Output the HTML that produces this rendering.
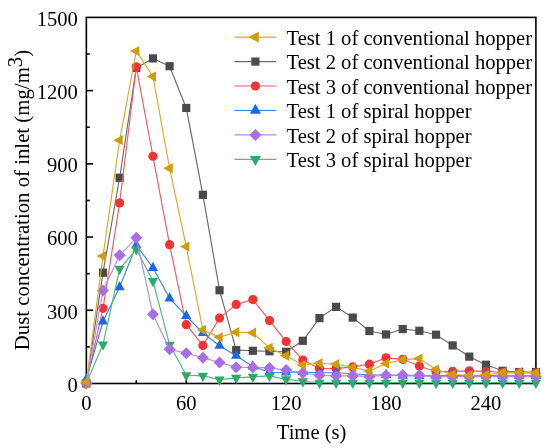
<!DOCTYPE html>
<html><head><meta charset="utf-8"><style>
html,body{margin:0;padding:0;background:#fff;}
svg{display:block;}
text{font-family:"Liberation Serif","Times New Roman",serif;font-size:20.6px;fill:#000;}
</style></head><body>
<svg width="550" height="448" viewBox="0 0 550 448">
<rect width="550" height="448" fill="#fff"/>
<rect x="86.35" y="17.40" width="449.55" height="366.10" fill="none" stroke="#000" stroke-width="1.6"/>
<line x1="86.35" y1="346.89" x2="89.75" y2="346.89" stroke="#000" stroke-width="1.6"/>
<line x1="86.35" y1="310.28" x2="93.15" y2="310.28" stroke="#000" stroke-width="1.6"/>
<line x1="86.35" y1="273.67" x2="89.75" y2="273.67" stroke="#000" stroke-width="1.6"/>
<line x1="86.35" y1="237.06" x2="93.15" y2="237.06" stroke="#000" stroke-width="1.6"/>
<line x1="86.35" y1="200.45" x2="89.75" y2="200.45" stroke="#000" stroke-width="1.6"/>
<line x1="86.35" y1="163.84" x2="93.15" y2="163.84" stroke="#000" stroke-width="1.6"/>
<line x1="86.35" y1="127.23" x2="89.75" y2="127.23" stroke="#000" stroke-width="1.6"/>
<line x1="86.35" y1="90.62" x2="93.15" y2="90.62" stroke="#000" stroke-width="1.6"/>
<line x1="86.35" y1="54.01" x2="89.75" y2="54.01" stroke="#000" stroke-width="1.6"/>
<line x1="136.30" y1="383.50" x2="136.30" y2="380.10" stroke="#000" stroke-width="1.6"/>
<line x1="186.25" y1="383.50" x2="186.25" y2="376.70" stroke="#000" stroke-width="1.6"/>
<line x1="236.20" y1="383.50" x2="236.20" y2="380.10" stroke="#000" stroke-width="1.6"/>
<line x1="286.15" y1="383.50" x2="286.15" y2="376.70" stroke="#000" stroke-width="1.6"/>
<line x1="336.10" y1="383.50" x2="336.10" y2="380.10" stroke="#000" stroke-width="1.6"/>
<line x1="386.05" y1="383.50" x2="386.05" y2="376.70" stroke="#000" stroke-width="1.6"/>
<line x1="436.00" y1="383.50" x2="436.00" y2="380.10" stroke="#000" stroke-width="1.6"/>
<line x1="485.95" y1="383.50" x2="485.95" y2="376.70" stroke="#000" stroke-width="1.6"/>
<polyline points="86.35,383.50 103.00,272.69 119.65,177.75 136.30,67.92 152.95,58.40 169.60,66.21 186.25,107.95 202.90,194.84 219.55,290.27 236.20,350.06 252.85,350.80 269.50,351.28 286.15,351.77 302.80,340.79 319.45,318.09 336.10,306.86 352.75,317.60 369.40,331.03 386.05,334.44 402.70,329.07 419.35,330.78 436.00,334.69 452.65,345.43 469.30,356.65 485.95,364.71 502.60,370.81 519.25,372.03 535.90,372.03" fill="none" stroke="#6A6A6A" stroke-width="1.15" stroke-linejoin="round"/>
<rect x="82.25" y="379.40" width="8.2" height="8.2" fill="#4A4A4A"/>
<rect x="98.90" y="268.59" width="8.2" height="8.2" fill="#4A4A4A"/>
<rect x="115.55" y="173.65" width="8.2" height="8.2" fill="#4A4A4A"/>
<rect x="132.20" y="63.82" width="8.2" height="8.2" fill="#4A4A4A"/>
<rect x="148.85" y="54.30" width="8.2" height="8.2" fill="#4A4A4A"/>
<rect x="165.50" y="62.11" width="8.2" height="8.2" fill="#4A4A4A"/>
<rect x="182.15" y="103.85" width="8.2" height="8.2" fill="#4A4A4A"/>
<rect x="198.80" y="190.74" width="8.2" height="8.2" fill="#4A4A4A"/>
<rect x="215.45" y="286.17" width="8.2" height="8.2" fill="#4A4A4A"/>
<rect x="232.10" y="345.96" width="8.2" height="8.2" fill="#4A4A4A"/>
<rect x="248.75" y="346.70" width="8.2" height="8.2" fill="#4A4A4A"/>
<rect x="265.40" y="347.18" width="8.2" height="8.2" fill="#4A4A4A"/>
<rect x="282.05" y="347.67" width="8.2" height="8.2" fill="#4A4A4A"/>
<rect x="298.70" y="336.69" width="8.2" height="8.2" fill="#4A4A4A"/>
<rect x="315.35" y="313.99" width="8.2" height="8.2" fill="#4A4A4A"/>
<rect x="332.00" y="302.76" width="8.2" height="8.2" fill="#4A4A4A"/>
<rect x="348.65" y="313.50" width="8.2" height="8.2" fill="#4A4A4A"/>
<rect x="365.30" y="326.93" width="8.2" height="8.2" fill="#4A4A4A"/>
<rect x="381.95" y="330.34" width="8.2" height="8.2" fill="#4A4A4A"/>
<rect x="398.60" y="324.97" width="8.2" height="8.2" fill="#4A4A4A"/>
<rect x="415.25" y="326.68" width="8.2" height="8.2" fill="#4A4A4A"/>
<rect x="431.90" y="330.59" width="8.2" height="8.2" fill="#4A4A4A"/>
<rect x="448.55" y="341.33" width="8.2" height="8.2" fill="#4A4A4A"/>
<rect x="465.20" y="352.55" width="8.2" height="8.2" fill="#4A4A4A"/>
<rect x="481.85" y="360.61" width="8.2" height="8.2" fill="#4A4A4A"/>
<rect x="498.50" y="366.71" width="8.2" height="8.2" fill="#4A4A4A"/>
<rect x="515.15" y="367.93" width="8.2" height="8.2" fill="#4A4A4A"/>
<rect x="531.80" y="367.93" width="8.2" height="8.2" fill="#4A4A4A"/>
<polyline points="86.35,382.52 103.00,308.33 119.65,202.89 136.30,66.95 152.95,156.27 169.60,244.63 186.25,324.68 202.90,345.43 219.55,318.09 236.20,304.42 252.85,299.54 269.50,320.53 286.15,341.52 302.80,360.07 319.45,368.61 336.10,368.61 352.75,366.90 369.40,364.22 386.05,357.87 402.70,359.34 419.35,365.93 436.00,371.78 452.65,371.30 469.30,370.81 485.95,371.30 502.60,372.52 519.25,372.76 535.90,373.01" fill="none" stroke="#F05C64" stroke-width="1.15" stroke-linejoin="round"/>
<circle cx="86.35" cy="382.52" r="4.6" fill="#F03434"/>
<circle cx="103.00" cy="308.33" r="4.6" fill="#F03434"/>
<circle cx="119.65" cy="202.89" r="4.6" fill="#F03434"/>
<circle cx="136.30" cy="66.95" r="4.6" fill="#F03434"/>
<circle cx="152.95" cy="156.27" r="4.6" fill="#F03434"/>
<circle cx="169.60" cy="244.63" r="4.6" fill="#F03434"/>
<circle cx="186.25" cy="324.68" r="4.6" fill="#F03434"/>
<circle cx="202.90" cy="345.43" r="4.6" fill="#F03434"/>
<circle cx="219.55" cy="318.09" r="4.6" fill="#F03434"/>
<circle cx="236.20" cy="304.42" r="4.6" fill="#F03434"/>
<circle cx="252.85" cy="299.54" r="4.6" fill="#F03434"/>
<circle cx="269.50" cy="320.53" r="4.6" fill="#F03434"/>
<circle cx="286.15" cy="341.52" r="4.6" fill="#F03434"/>
<circle cx="302.80" cy="360.07" r="4.6" fill="#F03434"/>
<circle cx="319.45" cy="368.61" r="4.6" fill="#F03434"/>
<circle cx="336.10" cy="368.61" r="4.6" fill="#F03434"/>
<circle cx="352.75" cy="366.90" r="4.6" fill="#F03434"/>
<circle cx="369.40" cy="364.22" r="4.6" fill="#F03434"/>
<circle cx="386.05" cy="357.87" r="4.6" fill="#F03434"/>
<circle cx="402.70" cy="359.34" r="4.6" fill="#F03434"/>
<circle cx="419.35" cy="365.93" r="4.6" fill="#F03434"/>
<circle cx="436.00" cy="371.78" r="4.6" fill="#F03434"/>
<circle cx="452.65" cy="371.30" r="4.6" fill="#F03434"/>
<circle cx="469.30" cy="370.81" r="4.6" fill="#F03434"/>
<circle cx="485.95" cy="371.30" r="4.6" fill="#F03434"/>
<circle cx="502.60" cy="372.52" r="4.6" fill="#F03434"/>
<circle cx="519.25" cy="372.76" r="4.6" fill="#F03434"/>
<circle cx="535.90" cy="373.01" r="4.6" fill="#F03434"/>
<polyline points="86.35,379.11 103.00,321.51 119.65,287.09 136.30,245.11 152.95,267.81 169.60,298.32 186.25,315.89 202.90,332.98 219.55,345.67 236.20,355.68 252.85,366.42 269.50,372.27 286.15,372.52 302.80,372.03 319.45,372.76 336.10,372.76 352.75,373.74 369.40,374.96 386.05,374.96 402.70,375.69 419.35,375.93 436.00,375.93 452.65,375.45 469.30,375.45 485.95,375.45 502.60,375.93 519.25,375.93 535.90,375.93" fill="none" stroke="#3A7EEA" stroke-width="1.15" stroke-linejoin="round"/>
<path d="M86.35 372.97L91.45 382.17L81.25 382.17Z" fill="#1E66E8"/>
<path d="M103.00 315.37L108.10 324.57L97.90 324.57Z" fill="#1E66E8"/>
<path d="M119.65 280.96L124.75 290.16L114.55 290.16Z" fill="#1E66E8"/>
<path d="M136.30 238.98L141.40 248.18L131.20 248.18Z" fill="#1E66E8"/>
<path d="M152.95 261.68L158.05 270.88L147.85 270.88Z" fill="#1E66E8"/>
<path d="M169.60 292.19L174.70 301.39L164.50 301.39Z" fill="#1E66E8"/>
<path d="M186.25 309.76L191.35 318.96L181.15 318.96Z" fill="#1E66E8"/>
<path d="M202.90 326.84L208.00 336.04L197.80 336.04Z" fill="#1E66E8"/>
<path d="M219.55 339.54L224.65 348.74L214.45 348.74Z" fill="#1E66E8"/>
<path d="M236.20 349.54L241.30 358.74L231.10 358.74Z" fill="#1E66E8"/>
<path d="M252.85 360.28L257.95 369.48L247.75 369.48Z" fill="#1E66E8"/>
<path d="M269.50 366.14L274.60 375.34L264.40 375.34Z" fill="#1E66E8"/>
<path d="M286.15 366.38L291.25 375.58L281.05 375.58Z" fill="#1E66E8"/>
<path d="M302.80 365.90L307.90 375.10L297.70 375.10Z" fill="#1E66E8"/>
<path d="M319.45 366.63L324.55 375.83L314.35 375.83Z" fill="#1E66E8"/>
<path d="M336.10 366.63L341.20 375.83L331.00 375.83Z" fill="#1E66E8"/>
<path d="M352.75 367.60L357.85 376.80L347.65 376.80Z" fill="#1E66E8"/>
<path d="M369.40 368.82L374.50 378.02L364.30 378.02Z" fill="#1E66E8"/>
<path d="M386.05 368.82L391.15 378.02L380.95 378.02Z" fill="#1E66E8"/>
<path d="M402.70 369.56L407.80 378.76L397.60 378.76Z" fill="#1E66E8"/>
<path d="M419.35 369.80L424.45 379.00L414.25 379.00Z" fill="#1E66E8"/>
<path d="M436.00 369.80L441.10 379.00L430.90 379.00Z" fill="#1E66E8"/>
<path d="M452.65 369.31L457.75 378.51L447.55 378.51Z" fill="#1E66E8"/>
<path d="M469.30 369.31L474.40 378.51L464.20 378.51Z" fill="#1E66E8"/>
<path d="M485.95 369.31L491.05 378.51L480.85 378.51Z" fill="#1E66E8"/>
<path d="M502.60 369.80L507.70 379.00L497.50 379.00Z" fill="#1E66E8"/>
<path d="M519.25 369.80L524.35 379.00L514.15 379.00Z" fill="#1E66E8"/>
<path d="M535.90 369.80L541.00 379.00L530.80 379.00Z" fill="#1E66E8"/>
<polyline points="86.35,383.01 103.00,344.45 119.65,268.79 136.30,249.26 152.95,280.99 169.60,344.69 186.25,375.20 202.90,375.93 219.55,379.59 236.20,377.89 252.85,376.91 269.50,375.93 286.15,379.35 302.80,381.30 319.45,382.77 336.10,382.77 352.75,382.77 369.40,382.77 386.05,382.77 402.70,382.77 419.35,382.77 436.00,382.77 452.65,382.77 469.30,382.77 485.95,382.77 502.60,382.77 519.25,382.77 535.90,382.77" fill="none" stroke="#50B880" stroke-width="1.15" stroke-linejoin="round"/>
<path d="M86.35 389.15L91.45 379.95L81.25 379.95Z" fill="#2DAA6A"/>
<path d="M103.00 350.58L108.10 341.38L97.90 341.38Z" fill="#2DAA6A"/>
<path d="M119.65 274.92L124.75 265.72L114.55 265.72Z" fill="#2DAA6A"/>
<path d="M136.30 255.40L141.40 246.20L131.20 246.20Z" fill="#2DAA6A"/>
<path d="M152.95 287.13L158.05 277.93L147.85 277.93Z" fill="#2DAA6A"/>
<path d="M169.60 350.83L174.70 341.63L164.50 341.63Z" fill="#2DAA6A"/>
<path d="M186.25 381.34L191.35 372.14L181.15 372.14Z" fill="#2DAA6A"/>
<path d="M202.90 382.07L208.00 372.87L197.80 372.87Z" fill="#2DAA6A"/>
<path d="M219.55 385.73L224.65 376.53L214.45 376.53Z" fill="#2DAA6A"/>
<path d="M236.20 384.02L241.30 374.82L231.10 374.82Z" fill="#2DAA6A"/>
<path d="M252.85 383.04L257.95 373.84L247.75 373.84Z" fill="#2DAA6A"/>
<path d="M269.50 382.07L274.60 372.87L264.40 372.87Z" fill="#2DAA6A"/>
<path d="M286.15 385.48L291.25 376.28L281.05 376.28Z" fill="#2DAA6A"/>
<path d="M302.80 387.44L307.90 378.24L297.70 378.24Z" fill="#2DAA6A"/>
<path d="M319.45 388.90L324.55 379.70L314.35 379.70Z" fill="#2DAA6A"/>
<path d="M336.10 388.90L341.20 379.70L331.00 379.70Z" fill="#2DAA6A"/>
<path d="M352.75 388.90L357.85 379.70L347.65 379.70Z" fill="#2DAA6A"/>
<path d="M369.40 388.90L374.50 379.70L364.30 379.70Z" fill="#2DAA6A"/>
<path d="M386.05 388.90L391.15 379.70L380.95 379.70Z" fill="#2DAA6A"/>
<path d="M402.70 388.90L407.80 379.70L397.60 379.70Z" fill="#2DAA6A"/>
<path d="M419.35 388.90L424.45 379.70L414.25 379.70Z" fill="#2DAA6A"/>
<path d="M436.00 388.90L441.10 379.70L430.90 379.70Z" fill="#2DAA6A"/>
<path d="M452.65 388.90L457.75 379.70L447.55 379.70Z" fill="#2DAA6A"/>
<path d="M469.30 388.90L474.40 379.70L464.20 379.70Z" fill="#2DAA6A"/>
<path d="M485.95 388.90L491.05 379.70L480.85 379.70Z" fill="#2DAA6A"/>
<path d="M502.60 388.90L507.70 379.70L497.50 379.70Z" fill="#2DAA6A"/>
<path d="M519.25 388.90L524.35 379.70L514.15 379.70Z" fill="#2DAA6A"/>
<path d="M535.90 388.90L541.00 379.70L530.80 379.70Z" fill="#2DAA6A"/>
<polyline points="86.35,383.50 103.00,290.51 119.65,255.37 136.30,237.79 152.95,314.19 169.60,349.33 186.25,353.24 202.90,357.63 219.55,362.51 236.20,367.15 252.85,367.39 269.50,367.88 286.15,370.08 302.80,373.01 319.45,375.20 336.10,375.93 352.75,375.93 369.40,376.42 386.05,375.20 402.70,374.96 419.35,375.20 436.00,376.91 452.65,376.67 469.30,376.67 485.95,376.67 502.60,376.67 519.25,376.67 535.90,376.67" fill="none" stroke="#B88AEC" stroke-width="1.15" stroke-linejoin="round"/>
<path d="M86.35 377.50L92.35 383.50L86.35 389.50L80.35 383.50Z" fill="#A96EE6"/>
<path d="M103.00 284.51L109.00 290.51L103.00 296.51L97.00 290.51Z" fill="#A96EE6"/>
<path d="M119.65 249.37L125.65 255.37L119.65 261.37L113.65 255.37Z" fill="#A96EE6"/>
<path d="M136.30 231.79L142.30 237.79L136.30 243.79L130.30 237.79Z" fill="#A96EE6"/>
<path d="M152.95 308.19L158.95 314.19L152.95 320.19L146.95 314.19Z" fill="#A96EE6"/>
<path d="M169.60 343.33L175.60 349.33L169.60 355.33L163.60 349.33Z" fill="#A96EE6"/>
<path d="M186.25 347.24L192.25 353.24L186.25 359.24L180.25 353.24Z" fill="#A96EE6"/>
<path d="M202.90 351.63L208.90 357.63L202.90 363.63L196.90 357.63Z" fill="#A96EE6"/>
<path d="M219.55 356.51L225.55 362.51L219.55 368.51L213.55 362.51Z" fill="#A96EE6"/>
<path d="M236.20 361.15L242.20 367.15L236.20 373.15L230.20 367.15Z" fill="#A96EE6"/>
<path d="M252.85 361.39L258.85 367.39L252.85 373.39L246.85 367.39Z" fill="#A96EE6"/>
<path d="M269.50 361.88L275.50 367.88L269.50 373.88L263.50 367.88Z" fill="#A96EE6"/>
<path d="M286.15 364.08L292.15 370.08L286.15 376.08L280.15 370.08Z" fill="#A96EE6"/>
<path d="M302.80 367.01L308.80 373.01L302.80 379.01L296.80 373.01Z" fill="#A96EE6"/>
<path d="M319.45 369.20L325.45 375.20L319.45 381.20L313.45 375.20Z" fill="#A96EE6"/>
<path d="M336.10 369.93L342.10 375.93L336.10 381.93L330.10 375.93Z" fill="#A96EE6"/>
<path d="M352.75 369.93L358.75 375.93L352.75 381.93L346.75 375.93Z" fill="#A96EE6"/>
<path d="M369.40 370.42L375.40 376.42L369.40 382.42L363.40 376.42Z" fill="#A96EE6"/>
<path d="M386.05 369.20L392.05 375.20L386.05 381.20L380.05 375.20Z" fill="#A96EE6"/>
<path d="M402.70 368.96L408.70 374.96L402.70 380.96L396.70 374.96Z" fill="#A96EE6"/>
<path d="M419.35 369.20L425.35 375.20L419.35 381.20L413.35 375.20Z" fill="#A96EE6"/>
<path d="M436.00 370.91L442.00 376.91L436.00 382.91L430.00 376.91Z" fill="#A96EE6"/>
<path d="M452.65 370.67L458.65 376.67L452.65 382.67L446.65 376.67Z" fill="#A96EE6"/>
<path d="M469.30 370.67L475.30 376.67L469.30 382.67L463.30 376.67Z" fill="#A96EE6"/>
<path d="M485.95 370.67L491.95 376.67L485.95 382.67L479.95 376.67Z" fill="#A96EE6"/>
<path d="M502.60 370.67L508.60 376.67L502.60 382.67L496.60 376.67Z" fill="#A96EE6"/>
<path d="M519.25 370.67L525.25 376.67L519.25 382.67L513.25 376.67Z" fill="#A96EE6"/>
<path d="M535.90 370.67L541.90 376.67L535.90 382.67L529.90 376.67Z" fill="#A96EE6"/>
<polyline points="86.35,382.28 103.00,256.10 119.65,140.17 136.30,51.08 152.95,76.46 169.60,168.23 186.25,246.58 202.90,330.05 219.55,337.13 236.20,332.25 252.85,332.73 269.50,347.87 286.15,355.68 302.80,364.95 319.45,363.24 336.10,364.22 352.75,367.39 369.40,371.05 386.05,363.49 402.70,359.58 419.35,358.61 436.00,369.59 452.65,374.47 469.30,375.45 485.95,374.96 502.60,372.52 519.25,372.27 535.90,373.01" fill="none" stroke="#DCA92E" stroke-width="1.15" stroke-linejoin="round"/>
<path d="M80.08 382.28L89.48 377.08L89.48 387.48Z" fill="#D29B0C"/>
<path d="M96.73 256.10L106.13 250.90L106.13 261.30Z" fill="#D29B0C"/>
<path d="M113.38 140.17L122.78 134.97L122.78 145.37Z" fill="#D29B0C"/>
<path d="M130.03 51.08L139.43 45.88L139.43 56.28Z" fill="#D29B0C"/>
<path d="M146.68 76.46L156.08 71.26L156.08 81.66Z" fill="#D29B0C"/>
<path d="M163.33 168.23L172.73 163.03L172.73 173.43Z" fill="#D29B0C"/>
<path d="M179.98 246.58L189.38 241.38L189.38 251.78Z" fill="#D29B0C"/>
<path d="M196.63 330.05L206.03 324.85L206.03 335.25Z" fill="#D29B0C"/>
<path d="M213.28 337.13L222.68 331.93L222.68 342.33Z" fill="#D29B0C"/>
<path d="M229.93 332.25L239.33 327.05L239.33 337.45Z" fill="#D29B0C"/>
<path d="M246.58 332.73L255.98 327.53L255.98 337.93Z" fill="#D29B0C"/>
<path d="M263.23 347.87L272.63 342.67L272.63 353.07Z" fill="#D29B0C"/>
<path d="M279.88 355.68L289.28 350.48L289.28 360.88Z" fill="#D29B0C"/>
<path d="M296.53 364.95L305.93 359.75L305.93 370.15Z" fill="#D29B0C"/>
<path d="M313.18 363.24L322.58 358.04L322.58 368.44Z" fill="#D29B0C"/>
<path d="M329.83 364.22L339.23 359.02L339.23 369.42Z" fill="#D29B0C"/>
<path d="M346.48 367.39L355.88 362.19L355.88 372.59Z" fill="#D29B0C"/>
<path d="M363.13 371.05L372.53 365.85L372.53 376.25Z" fill="#D29B0C"/>
<path d="M379.78 363.49L389.18 358.29L389.18 368.69Z" fill="#D29B0C"/>
<path d="M396.43 359.58L405.83 354.38L405.83 364.78Z" fill="#D29B0C"/>
<path d="M413.08 358.61L422.48 353.41L422.48 363.81Z" fill="#D29B0C"/>
<path d="M429.73 369.59L439.13 364.39L439.13 374.79Z" fill="#D29B0C"/>
<path d="M446.38 374.47L455.78 369.27L455.78 379.67Z" fill="#D29B0C"/>
<path d="M463.03 375.45L472.43 370.25L472.43 380.65Z" fill="#D29B0C"/>
<path d="M479.68 374.96L489.08 369.76L489.08 380.16Z" fill="#D29B0C"/>
<path d="M496.33 372.52L505.73 367.32L505.73 377.72Z" fill="#D29B0C"/>
<path d="M512.98 372.27L522.38 367.07L522.38 377.47Z" fill="#D29B0C"/>
<path d="M529.63 373.01L539.03 367.81L539.03 378.21Z" fill="#D29B0C"/>
<text x="77.9" y="391.80" text-anchor="end">0</text>
<text x="77.9" y="318.58" text-anchor="end">300</text>
<text x="77.9" y="245.36" text-anchor="end">600</text>
<text x="77.9" y="172.14" text-anchor="end">900</text>
<text x="77.9" y="98.92" text-anchor="end">1200</text>
<text x="77.9" y="25.70" text-anchor="end">1500</text>
<text x="86.35" y="409.6" text-anchor="middle">0</text>
<text x="186.25" y="409.6" text-anchor="middle">60</text>
<text x="286.15" y="409.6" text-anchor="middle">120</text>
<text x="386.05" y="409.6" text-anchor="middle">180</text>
<text x="485.95" y="409.6" text-anchor="middle">240</text>
<text x="311.6" y="439.2" text-anchor="middle">Time (s)</text>
<text transform="translate(29.3 350.2) rotate(-90)" style="font-size:20.8px">Dust concentration of inlet (mg/m<tspan dy="-7.5">3</tspan><tspan dy="7.5">)</tspan></text>
<line x1="234.5" y1="37.10" x2="276.2" y2="37.10" stroke="#DCA92E" stroke-width="1.15"/>
<path d="M248.63 37.10L258.78 31.48L258.78 42.72Z" fill="#D29B0C"/>
<text x="286.5" y="44.75">Test 1 of conventional hopper</text>
<line x1="234.5" y1="61.56" x2="276.2" y2="61.56" stroke="#6A6A6A" stroke-width="1.15"/>
<rect x="251.30" y="57.46" width="8.2" height="8.2" fill="#4A4A4A"/>
<text x="286.5" y="69.21">Test 2 of conventional hopper</text>
<line x1="234.5" y1="86.02" x2="276.2" y2="86.02" stroke="#F05C64" stroke-width="1.15"/>
<circle cx="255.40" cy="86.02" r="4.6" fill="#F03434"/>
<text x="286.5" y="93.67">Test 3 of conventional hopper</text>
<line x1="234.5" y1="110.48" x2="276.2" y2="110.48" stroke="#3A7EEA" stroke-width="1.15"/>
<path d="M255.40 103.86L260.91 113.79L249.89 113.79Z" fill="#1E66E8"/>
<text x="286.5" y="118.13">Test 1 of spiral hopper</text>
<line x1="234.5" y1="134.94" x2="276.2" y2="134.94" stroke="#B88AEC" stroke-width="1.15"/>
<path d="M255.40 128.94L261.40 134.94L255.40 140.94L249.40 134.94Z" fill="#A96EE6"/>
<text x="286.5" y="142.59">Test 2 of spiral hopper</text>
<line x1="234.5" y1="159.40" x2="276.2" y2="159.40" stroke="#50B880" stroke-width="1.15"/>
<path d="M255.40 166.02L260.91 156.09L249.89 156.09Z" fill="#2DAA6A"/>
<text x="286.5" y="167.05">Test 3 of spiral hopper</text>
</svg>
</body></html>
